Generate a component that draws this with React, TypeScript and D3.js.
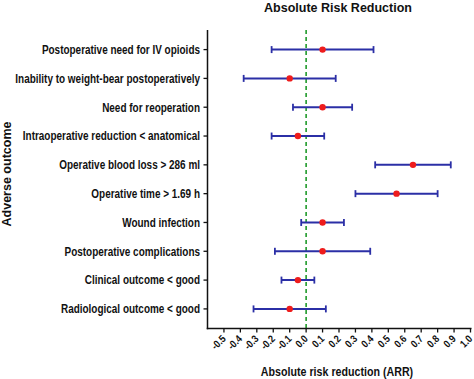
import React from "react";
import * as d3 from "d3";

const outcomes = [
  "Postoperative need for IV opioids",
  "Inability to weight-bear postoperatively",
  "Need for reoperation",
  "Intraoperative reduction < anatomical",
  "Operative blood loss > 286 ml",
  "Operative time > 1.69 h",
  "Wound infection",
  "Postoperative complications",
  "Clinical outcome < good",
  "Radiological outcome < good",
];
const arr = [0.1, -0.1, 0.1, -0.05, 0.65, 0.55, 0.1, 0.1, -0.05, -0.1];
const lower = [-0.21, -0.38, -0.08, -0.21, 0.42, 0.3, -0.03, -0.19, -0.15, -0.32];
const upper = [0.41, 0.18, 0.28, 0.11, 0.88, 0.8, 0.23, 0.39, 0.05, 0.12];
const xTicks = [-0.5, -0.4, -0.3, -0.2, -0.1, 0.0, 0.1, 0.2, 0.3, 0.4, 0.5, 0.6, 0.7, 0.8, 0.9, 1.0];

const W = 474;
const H = 379;
const left = 207.5;
const right = 470.5;
const top = 30;
const bottom = 328.5;

export default function App() {
  const x = d3.scaleLinear().domain([-0.6, 1.0]).range([left, right]);
  const y = d3.scalePoint<string>().domain(outcomes).range([top, bottom]).padding(0.68);
  const font = "'Liberation Sans', Arial, Helvetica, sans-serif";
  const blue = "#2b2fa6";
  return (
    <svg width={W} height={H} style={{ position: "absolute", left: 0, top: 0, background: "#fff" }} fontFamily={font}>
      {/* title */}
      <text x={338} y={11.5} textAnchor="middle" fontSize={12.5} fontWeight="bold" fill="#111">
        Absolute Risk Reduction
      </text>
      {/* zero line */}
      <line x1={x(0)} x2={x(0)} y1={top} y2={bottom} stroke="#1f9a2a" strokeWidth={1.6} strokeDasharray="4,3" />
      {/* axes */}
      <line x1={left} x2={left} y1={top} y2={bottom + 0.75} stroke="#111" strokeWidth={1.5} />
      <line x1={left - 0.75} x2={right + 1} y1={bottom} y2={bottom} stroke="#111" strokeWidth={1.5} />
      {/* x ticks */}
      {xTicks.map((t) => (
        <g key={t}>
          <line x1={x(t)} x2={x(t)} y1={bottom} y2={bottom + 4} stroke="#111" strokeWidth={1.3} />
          <text
            transform={`translate(${x(t) + 2.5},${bottom + 11}) rotate(-45) scale(0.85,1)`}
            textAnchor="end"
            fontSize={10.5}
            fontWeight="bold"
            fill="#111"
          >
            {t.toFixed(1)}
          </text>
        </g>
      ))}
      {/* y ticks and labels */}
      {outcomes.map((o) => (
        <g key={o}>
          <line x1={left - 4} x2={left} y1={y(o)} y2={y(o)} stroke="#111" strokeWidth={1.3} />
          <text
            transform={`translate(200,${(y(o) as number) + 4.3}) scale(0.83,1)`}
            textAnchor="end"
            fontSize={12}
            fontWeight="bold"
            fill="#111"
          >
            {o}
          </text>
        </g>
      ))}
      {/* error bars */}
      {outcomes.map((o, i) => {
        const cy = y(o) as number;
        return (
          <g key={"e" + o}>
            <line x1={x(lower[i])} x2={x(upper[i])} y1={cy} y2={cy} stroke={blue} strokeWidth={2} />
            <line x1={x(lower[i])} x2={x(lower[i])} y1={cy - 3.5} y2={cy + 3.5} stroke={blue} strokeWidth={1.8} />
            <line x1={x(upper[i])} x2={x(upper[i])} y1={cy - 3.5} y2={cy + 3.5} stroke={blue} strokeWidth={1.8} />
            <circle cx={x(arr[i])} cy={cy} r={3.2} fill="#ee1c1c" />
          </g>
        );
      })}
      {/* axis titles */}
      <text
        transform={`translate(337,376) scale(0.89,1)`}
        textAnchor="middle"
        fontSize={12}
        fontWeight="bold"
        fill="#111"
      >
        Absolute risk reduction (ARR)
      </text>
      <text
        transform={`translate(11,174) rotate(-90)`}
        textAnchor="middle"
        fontSize={12.5}
        fontWeight="bold"
        fill="#111"
      >
        Adverse outcome
      </text>
    </svg>
  );
}
